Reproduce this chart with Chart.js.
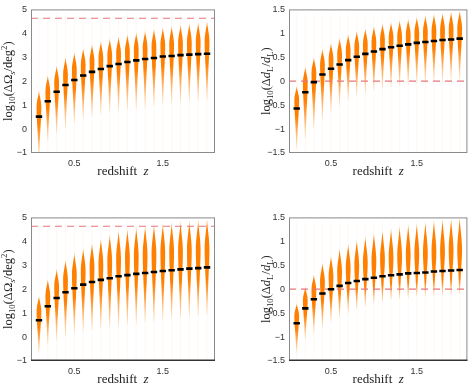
<!DOCTYPE html>
<html>
<head>
<meta charset="utf-8">
<script src="https://cdn.jsdelivr.net/npm/chart.js@4.4.0/dist/chart.umd.min.js"></script>
<style>
    html, body { margin: 0; padding: 0; background: #fff; overflow: hidden; }
    #wrap { position: relative; width: 474px; height: 385px; overflow: hidden; }
    canvas { position: absolute; }
</style>
</head>
<body>
<div id="wrap">
    <canvas id="omega-top" width="237" height="208" style="left:0;top:0"></canvas>
    <canvas id="dist-top" width="237" height="208" style="left:237px;top:0"></canvas>
    <canvas id="omega-bottom" width="237" height="208" style="left:0;top:208px"></canvas>
    <canvas id="dist-bottom" width="237" height="208" style="left:237px;top:208px"></canvas>
</div>
<script>
const redshift = [0.1, 0.2, 0.3, 0.4, 0.5, 0.6, 0.7, 0.8, 0.9, 1.0,
                  1.1, 1.2, 1.3, 1.4, 1.5, 1.6, 1.7, 1.8, 1.9, 2.0];
const xTicks = [0.5, 1.5];
const omegaTicks = [-1, 0, 1, 2, 3, 4, 5];
const distTicks = [-1.5, -1, -0.5, 0, 0.5, 1, 1.5];
const omegaRef = 4.63;
const distRef = 0;

// top row: sky area
const omegaMedianTop = [0.52, 1.16, 1.56, 1.84, 2.05, 2.24, 2.39, 2.51, 2.63, 2.72,
                        2.80, 2.87, 2.93, 2.97, 3.03, 3.05, 3.09, 3.11, 3.13, 3.15];
const omegaHighTop = [1.60, 2.25, 2.65, 2.99, 3.21, 3.39, 3.55, 3.68, 3.78, 3.88,
                      3.96, 4.05, 4.12, 4.19, 4.25, 4.32, 4.37, 4.42, 4.46, 4.50];
const omegaLowTop = [-1.20, -0.50, -0.20, 0.05, 0.25, 0.42, 0.52, 0.62, 0.70, 0.75,
                     0.80, 0.83, 0.88, 0.97, 1.03, 1.06, 1.10, 1.15, 1.18, 1.22];

// top row: distance
const distMedianTop = [-0.57, -0.23, -0.02, 0.14, 0.26, 0.35, 0.44, 0.51, 0.57, 0.62,
                       0.67, 0.71, 0.74, 0.77, 0.80, 0.82, 0.84, 0.86, 0.87, 0.89];
const distHighTop = [-0.10, 0.30, 0.50, 0.68, 0.80, 0.90, 0.98, 1.05, 1.10, 1.15,
                     1.20, 1.23, 1.27, 1.30, 1.34, 1.37, 1.40, 1.42, 1.45, 1.47];
const distLowTop = [-1.40, -1.20, -1.00, -0.80, -0.65, -0.50, -0.40, -0.30, -0.25, -0.20,
                    -0.15, -0.12, -0.10, -0.08, -0.05, -0.03, 0.00, 0.00, 0.02, 0.03];

// bottom row: sky area
const omegaMedianBottom = [0.70, 1.29, 1.63, 1.87, 2.04, 2.19, 2.30, 2.39, 2.46, 2.54,
                           2.59, 2.64, 2.68, 2.72, 2.76, 2.79, 2.83, 2.86, 2.88, 2.91];
const omegaHighBottom = [1.72, 2.42, 2.85, 3.23, 3.52, 3.72, 3.93, 4.12, 4.30, 4.45,
                         4.52, 4.60, 4.66, 4.71, 4.76, 4.80, 4.84, 4.87, 4.90, 4.93];
const omegaLowBottom = [-0.66, -0.33, -0.13, 0.05, 0.18, 0.25, 0.30, 0.35, 0.40, 0.47,
                        0.52, 0.57, 0.60, 0.65, 0.70, 0.75, 0.80, 0.85, 0.90, 0.94];

// bottom row: distance
const distMedianBottom = [-0.71, -0.40, -0.21, -0.09, 0.00, 0.07, 0.13, 0.17, 0.21, 0.24,
                          0.27, 0.29, 0.31, 0.33, 0.34, 0.35, 0.37, 0.38, 0.39, 0.40];
const distHighBottom = [-0.30, 0.05, 0.30, 0.55, 0.70, 0.85, 0.95, 1.03, 1.10, 1.17,
                        1.22, 1.27, 1.31, 1.35, 1.38, 1.41, 1.44, 1.46, 1.48, 1.50];
const distLowBottom = [-1.33, -1.05, -0.92, -0.80, -0.68, -0.58, -0.50, -0.42, -0.35, -0.30,
                       -0.26, -0.22, -0.20, -0.18, -0.16, -0.15, -0.14, -0.13, -0.12, -0.10];

const omegaTitle = [
    { t: 'log' }, { t: '10', pos: 'sub' }, { t: '(Δ' }, { t: 'Ω' },
    { t: 's', pos: 'sub', italic: true }, { t: '/deg' }, { t: '2', pos: 'sup' }, { t: ')' }
];
const distTitle = [
    { t: 'log' }, { t: '10', pos: 'sub' }, { t: '(Δ' }, { t: 'd', italic: true },
    { t: 'L', pos: 'sub' }, { t: '/' }, { t: 'd', italic: true }, { t: 'L', pos: 'sub' }, { t: ')' }
];
const xTitle = [{ t: 'redshift  ' }, { t: 'z', italic: true }];

const SERIF = '"Liberation Serif", "DejaVu Serif", serif';
const ORANGE = '255,128,0';

function fmtTick(v) {
    return v < 0 ? '−' + Math.abs(v) : String(v);
}

function richWidth(ctx, segs, size) {
    let w = 0;
    segs.forEach(s => {
        const fs = s.pos ? size * 0.7 : size;
        ctx.font = (s.italic ? 'italic ' : '') + fs + 'px ' + SERIF;
        w += ctx.measureText(s.t).width;
    });
    return w;
}

function drawRich(ctx, segs, cx, cy, size, rotate) {
    ctx.save();
    ctx.translate(cx, cy);
    if (rotate) ctx.rotate(-Math.PI / 2);
    ctx.fillStyle = '#222';
    ctx.textBaseline = 'middle';
    ctx.textAlign = 'left';
    let x = -richWidth(ctx, segs, size) / 2;
    segs.forEach(s => {
        const fs = s.pos ? size * 0.7 : size;
        ctx.font = (s.italic ? 'italic ' : '') + fs + 'px ' + SERIF;
        let dy = 0;
        if (s.pos === 'sub') dy = size * 0.28;
        if (s.pos === 'sup') dy = -size * 0.35;
        ctx.fillText(s.t, x, dy);
        x += ctx.measureText(s.t).width;
    });
    ctx.restore();
}

function violinPlugin(median, high, low, yTitle, darkBottom) {
    return {
        id: 'violins',
        beforeDatasetsDraw(chart) {
            const { ctx, chartArea, scales: { x, y } } = chart;
            ctx.save();
            ctx.beginPath();
            ctx.rect(chartArea.left, chartArea.top, chartArea.right - chartArea.left, chartArea.bottom - chartArea.top);
            ctx.clip();
            redshift.forEach((z, i) => {
                const px = x.getPixelForValue(z);
                // faint tail line
                ctx.strokeStyle = 'rgba(' + ORANGE + ',0.06)';
                ctx.lineWidth = 1;
                ctx.beginPath();
                ctx.moveTo(px, chartArea.top + 4);
                ctx.lineTo(px, chartArea.bottom);
                ctx.stroke();

                const yt = y.getPixelForValue(high[i]);
                const ym = y.getPixelForValue(median[i]);
                const yb = y.getPixelForValue(low[i]);
                const w = 2.4;
                const yw = yt + (ym - yt) * 0.62;  // widest point, above the median
                const a = yw - yt, b = yb - yw;
                const fm = (ym - yt) / (yb - yt);
                const grad = ctx.createLinearGradient(0, yt, 0, yb);
                grad.addColorStop(0, 'rgba(' + ORANGE + ',0.55)');
                grad.addColorStop(0.08, 'rgba(' + ORANGE + ',1)');
                grad.addColorStop(Math.min(0.95, fm + 0.12), 'rgba(' + ORANGE + ',1)');
                grad.addColorStop(1, 'rgba(' + ORANGE + ',0.15)');
                ctx.fillStyle = grad;
                ctx.beginPath();
                ctx.moveTo(px, yt);
                ctx.bezierCurveTo(px + w * 0.3, yt + a * 0.4, px + w, yw - a * 0.35, px + w, yw);
                ctx.bezierCurveTo(px + w, yw + b * 0.25, px + w * 0.3, yb - b * 0.45, px + 0.4, yb);
                ctx.lineTo(px - 0.4, yb);
                ctx.bezierCurveTo(px - w * 0.3, yb - b * 0.45, px - w, yw + b * 0.25, px - w, yw);
                ctx.bezierCurveTo(px - w, yw - a * 0.35, px - w * 0.3, yt + a * 0.4, px, yt);
                ctx.closePath();
                ctx.fill();
            });
            ctx.restore();
        },
        afterDraw(chart) {
            const { ctx, chartArea } = chart;
            ctx.save();
            ctx.strokeStyle = '#8a8a8a';
            ctx.lineWidth = 1;
            ctx.strokeRect(chartArea.left + 0.5, chartArea.top + 0.5,
                chartArea.right - chartArea.left - 1, chartArea.bottom - chartArea.top - 1);
            if (darkBottom) {
                ctx.strokeStyle = '#333';
                ctx.lineWidth = 1.5;
                ctx.beginPath();
                ctx.moveTo(chartArea.left, chartArea.bottom - 0.75);
                ctx.lineTo(chartArea.right, chartArea.bottom - 0.75);
                ctx.stroke();
            }
            ctx.restore();
            const midY = (chartArea.top + chartArea.bottom) / 2;
            const midX = (chartArea.left + chartArea.right) / 2;
            drawRich(ctx, yTitle, chartArea.left - 22, midY, 12.5, true);
            drawRich(ctx, xTitle, midX, chartArea.bottom + 19, 13, false);
        }
    };
}

function makePanel(id, median, high, low, refValue, yTicks, yTitle, leftWidth, rightPad, darkBottom) {
    const medianPoints = redshift.map((z, i) => ({ x: z, y: median[i] }));
    const xMin = 0.01, xMax = 2.09;
    return new Chart(document.getElementById(id), {
        type: 'scatter',
        data: {
            datasets: [
                {
                    type: 'line',
                    data: [{ x: xMin, y: refValue }, { x: xMax, y: refValue }],
                    borderColor: '#e57780',
                    borderWidth: 1.2,
                    borderDash: [7, 5],
                    pointRadius: 0,
                    order: 2
                },
                {
                    data: medianPoints,
                    pointStyle: 'line',
                    pointRadius: 3.2,
                    borderColor: '#000',
                    borderWidth: 2.6,
                    order: 1
                }
            ]
        },
        options: {
            responsive: false,
            animation: false,
            events: [],
            layout: { padding: { top: 3, right: rightPad, left: 0, bottom: 0 } },
            plugins: { legend: { display: false }, tooltip: { enabled: false } },
            scales: {
                x: {
                    type: 'linear',
                    min: xMin,
                    max: xMax,
                    grid: { display: false, drawTicks: false },
                    border: { display: false },
                    afterBuildTicks: s => { s.ticks = xTicks.map(v => ({ value: v })); },
                    afterFit: s => { s.height = 55; },
                    ticks: {
                        padding: 5,
                        color: '#333',
                        font: { size: 9, family: '"Liberation Sans", Arial, sans-serif' },
                        callback: v => fmtTick(v)
                    }
                },
                y: {
                    type: 'linear',
                    min: yTicks[0],
                    max: yTicks[yTicks.length - 1],
                    grid: { display: false, drawTicks: false },
                    border: { display: false },
                    afterBuildTicks: s => { s.ticks = yTicks.map(v => ({ value: v })); },
                    afterFit: s => { s.width = leftWidth; },
                    ticks: {
                        padding: 4,
                        color: '#333',
                        font: { size: 9, family: '"Liberation Sans", Arial, sans-serif' },
                        callback: v => fmtTick(v)
                    }
                }
            }
        },
        plugins: [violinPlugin(median, high, low, yTitle, darkBottom)]
    });
}

makePanel('omega-top', omegaMedianTop, omegaHighTop, omegaLowTop, omegaRef, omegaTicks, omegaTitle, 31, 22, false);
makePanel('dist-top', distMedianTop, distHighTop, distLowTop, distRef, distTicks, distTitle, 52, 1, false);
makePanel('omega-bottom', omegaMedianBottom, omegaHighBottom, omegaLowBottom, omegaRef, omegaTicks, omegaTitle, 31, 22, true);
makePanel('dist-bottom', distMedianBottom, distHighBottom, distLowBottom, distRef, distTicks, distTitle, 52, 1, true);
</script>
</body>
</html>
